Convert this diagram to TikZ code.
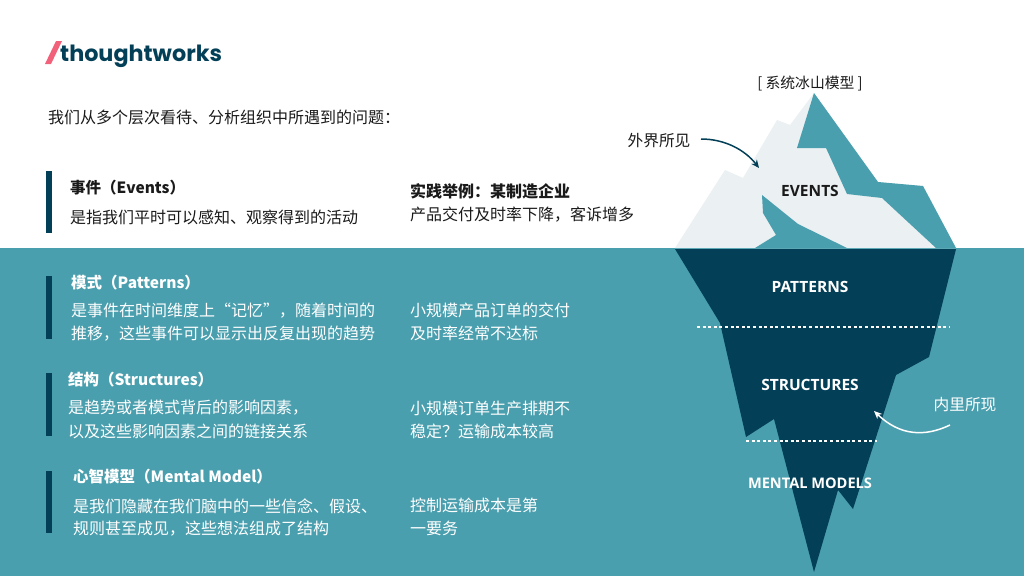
\documentclass[tikz,border=0pt]{standalone}
\usepackage{fontspec}
\usetikzlibrary{arrows.meta}
\setmainfont{Noto Sans CJK SC}
\newfontfamily\labelfont{Open Sans}
\newfontfamily\logofont{Poppins}
\definecolor{water}{HTML}{4A9FAE}
\definecolor{deep}{HTML}{033F57}
\definecolor{ice}{HTML}{EBF0F2}
\definecolor{ink}{HTML}{1A1A1A}
\definecolor{logopink}{HTML}{F2617A}
\tikzset{
  txt/.style={anchor=west,inner sep=0pt,font=\fontsize{16}{16}\selectfont,text=ink},
  wtxt/.style={txt,text=white},
  head/.style={txt,font=\fontsize{15.5}{16}\selectfont\bfseries},
  whead/.style={head,text=white},
  note/.style={anchor=center,inner sep=0pt,font=\fontsize{15.7}{16}\selectfont},
  berg/.style={anchor=center,inner sep=0pt,font=\labelfont\bfseries\fontsize{15.5}{16}\selectfont},
  bar/.style={fill=deep,draw=none},
  dots/.style={white,line width=1.4pt,dash pattern=on 3pt off 2.6pt},
  callout/.style={line width=1.5pt,-{Stealth[length=8pt,width=7pt]}},
}
\begin{document}
\begin{tikzpicture}[x=1pt,y=-1pt]
\useasboundingbox (0,0) rectangle (1024,576);
\fill[white] (0,0) rectangle (1024,576);
\fill[water] (0,248) rectangle (1024,576);
% iceberg above water
\fill[ice] (675,248) -- (725,170) -- (743,178) -- (777,120) -- (790,125) -- (814,93) -- (878,182) -- (923,186) -- (956,248) -- cycle;
\fill[water] (814,93) -- (878,182) -- (923,186) -- (956,248) -- (936,248) -- (882,198) -- (847,194) -- (826,148) -- (797,148) -- cycle;
\fill[water] (762,195) -- (798,224) -- (847,248) -- (755,248) -- (776,235) -- (763,213) -- cycle;
% iceberg below water
\fill[deep] (675,249) -- (956,249) -- (929,357) -- (896,375) -- (853,509) -- (838,490) -- (814,572) -- (774,419) -- (746,437) -- (720,323) -- cycle;
% dotted levels
\coordinate (d1a) at (697,327); \coordinate (d1b) at (950,327);
\coordinate (d2a) at (746,441); \coordinate (d2b) at (877,441);
\draw[dots] (d1a) -- (d1b);
\draw[dots] (d2a) -- (d2b);
% logo
\fill[logopink] (45,64) -- (56,41) -- (62,41) -- (51,64) -- cycle;
\node (logo) [anchor=west,inner sep=0pt,text=deep,font=\logofont\bfseries\fontsize{22.3}{24}\selectfont] at (60,56) {thoughtworks};
% texts
\node (intro) [txt] at (48,117) {我们从多个层次看待、分析组织中所遇到的问题：};
\node (title) [note,text=ink,font=\fontsize{14.8}{16}\selectfont] at (810,84) {[ 系统冰山模型 ]};
\node (seen) [note,text=ink] at (659,141) {外界所见};
\node (hidden) [note,text=white] at (965,405) {内里所现};
\coordinate (seenstart) at (701,139);
\coordinate (seenend) at (759,168);
\coordinate (hiddenstart) at (950,425);
\coordinate (hiddenend) at (874,411);
\draw[deep,callout] (seenstart) .. controls (725,139) and (745,150) .. (seenend);
\draw[white,callout] (hiddenstart) .. controls (925,437) and (900,436) .. (hiddenend);
% bars
\fill[bar] (46,171) rectangle (52,233);
\fill[bar] (46,276) rectangle (52,339);
\fill[bar] (46,373) rectangle (52,436);
\fill[bar] (46,471) rectangle (52,533);
% left column
\node (e1) [head] at (70,188) {事件（Events）};
\node (e2) [txt] at (70,217) {是指我们平时可以感知、观察得到的活动};
\node (p1) [whead] at (71,283) {模式（Patterns）};
\node (p2) [wtxt] at (71,311) {是事件在时间维度上“记忆”，随着时间的};
\node (p3) [wtxt] at (71,334) {推移，这些事件可以显示出反复出现的趋势};
\node (s1) [whead] at (68,380) {结构（Structures）};
\node (s2) [wtxt] at (68,408) {是趋势或者模式背后的影响因素，};
\node (s3) [wtxt] at (68,431) {以及这些影响因素之间的链接关系};
\node (m1) [whead] at (73,477) {心智模型（Mental Model）};
\node (m2) [wtxt] at (73,506) {是我们隐藏在我们脑中的一些信念、假设、};
\node (m3) [wtxt] at (73,529) {规则甚至成见，这些想法组成了结构};
% right column
\node (c1) [head,font=\fontsize{16}{16}\selectfont\bfseries] at (410,191) {实践举例：某制造企业};
\node (c2) [txt] at (410,215) {产品交付及时率下降，客诉增多};
\node (c3) [wtxt] at (410,310) {小规模产品订单的交付};
\node (c4) [wtxt] at (410,333) {及时率经常不达标};
\node (c5) [wtxt] at (410,408) {小规模订单生产排期不};
\node (c6) [wtxt] at (410,431) {稳定？运输成本较高};
\node (c7) [wtxt] at (410,505) {控制运输成本是第};
\node (c8) [wtxt] at (410,528) {一要务};
% iceberg labels
\node (lev1) [berg,text=ink] at (810,191) {EVENTS};
\node (lev2) [berg,text=white] at (810,287) {PATTERNS};
\node (lev3) [berg,text=white] at (810,385) {STRUCTURES};
\node (lev4) [berg,text=white,font=\labelfont\bfseries\fontsize{14.6}{16}\selectfont] at (810,483) {MENTAL MODELS};
\end{tikzpicture}
\end{document}
